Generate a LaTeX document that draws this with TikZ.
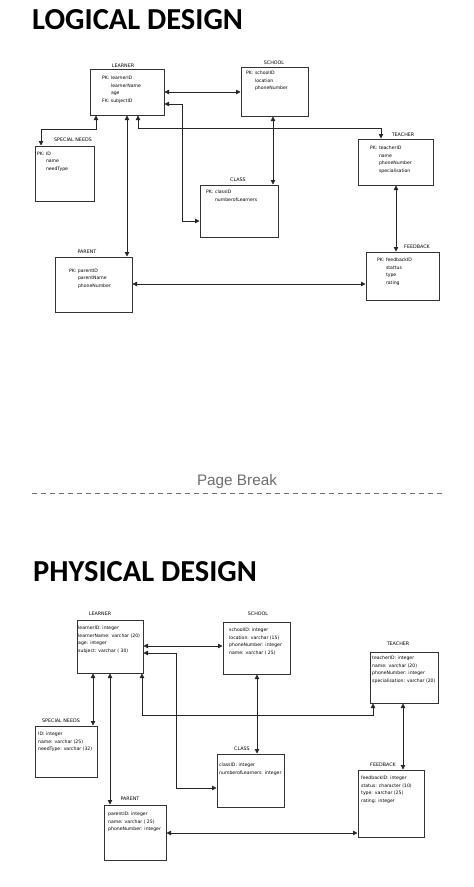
\documentclass[tikz,border=0pt]{standalone}
\usepackage{fontspec}
\setmainfont{DejaVu Sans}
\newfontfamily\titlefont{Carlito}
\newfontfamily\pbfont{Liberation Sans}
\usetikzlibrary{arrows.meta}
\definecolor{boxline}{HTML}{333333}
\definecolor{pbgray}{HTML}{6E6E6E}
\tikzset{
  erbox/.style={draw=boxline, line width=1pt, inner sep=0pt},
  lbl/.style={font=\fontsize{4.8}{5}\selectfont, inner sep=0pt},
  attr/.style={font=\fontsize{4.6}{7.6}\selectfont, align=left, inner sep=0pt, anchor=north west},
  dbl/.style={{Triangle[length=4.5pt,width=4.5pt]}-{Triangle[length=4.5pt,width=4.5pt]}, line width=0.8pt, draw=black!85},
  ttl/.style={font=\titlefont\bfseries\fontsize{30.5}{32}\selectfont, inner sep=0pt, anchor=base west}
}
\newcommand{\ind}{\phantom{PK: }}
\begin{document}
\begin{tikzpicture}[x=1pt,y=-1pt]
\fill[white] (0,0) rectangle (474,887);
\useasboundingbox (0,0) rectangle (474,887);

% ---------------- LOGICAL DESIGN ----------------
\node[ttl] (t1) at (32,29) {LOGICAL DESIGN};

\node[erbox, minimum width=74pt, minimum height=46pt] (LL) at (127,92) {};
\node[lbl] (LLl) at (123,66) {LEARNER};
\node[attr] (LLt) at (102,75.8) {PK: learnerID\\\ind learnerName\\\ind age\\FK: subjectID};

\node[erbox, minimum width=67pt, minimum height=49pt] (LS) at (274.5,91.5) {};
\node[lbl] (LSl) at (274,63) {SCHOOL};
\node[attr] (LSt) at (246,70.8) {PK: schoolID\\\ind location\\\ind phoneNumber};

\node[erbox, minimum width=59pt, minimum height=55pt] (LSN) at (64.5,173.5) {};
\node[lbl] (LSNl) at (73,140) {SPECIAL NEEDS};
\node[attr] (LSNt) at (37,151.8) {PK: ID\\\ind name\\\ind needType};

\node[erbox, minimum width=78pt, minimum height=52pt] (LC) at (239,211) {};
\node[lbl] (LCl) at (238,180) {CLASS};
\node[attr] (LCt) at (206,189.8) {PK: classID\\\ind numberofLearners};

\node[erbox, minimum width=75pt, minimum height=46pt] (LT) at (395.5,162) {};
\node[lbl] (LTl) at (403,135) {TEACHER};
\node[attr] (LTt) at (370,145.8) {PK: teacherID\\\ind name\\\ind phoneNumber\\\ind specialisation};

\node[erbox, minimum width=77pt, minimum height=55pt] (LP) at (93.5,284.5) {};
\node[lbl] (LPl) at (87,252) {PARENT};
\node[attr] (LPt) at (69,268.8) {PK: parentID\\\ind parentName\\\ind phoneNumber};

\node[erbox, minimum width=73pt, minimum height=48pt] (LF) at (402.5,276) {};
\node[lbl] (LFl) at (417,247) {FEEDBACK};
\node[attr] (LFt) at (377,257.8) {PK: feedbackID\\\ind stattus\\\ind type\\\ind rating};

\coordinate (lc1) at (182,104);
\coordinate (lc2) at (182,221);
\coordinate (ls1) at (96,129);
\coordinate (ls2) at (41,129);
\coordinate (lt1) at (138,128);
\coordinate (lt2) at (381,128);
\coordinate (lx1) at (273,0);
\coordinate (lx2) at (396,0);
\coordinate (ly1) at (0,284);

\draw[dbl] (LL.east) -- (LL.east -| LS.west);
\draw[dbl] (LL.east |- lc1) -- (lc1) -- (lc2) -- (LC.west |- lc2);
\draw[dbl] (LL.south -| ls1) -- (ls1) -- (ls2) -- (LSN.north -| ls2);
\draw[dbl] (LL.south -| lt1) -- (lt1) -- (lt2) -- (LT.north -| lt2);
\draw[dbl] (LL.south) -- (LL.south |- LP.north);
\draw[dbl] (LS.south -| lx1) -- (LC.north -| lx1);
\draw[dbl] (LT.south -| lx2) -- (LF.north -| lx2);
\draw[dbl] (LP.east |- ly1) -- (LF.west |- ly1);

% ---------------- PAGE BREAK ----------------
\node[font=\pbfont\fontsize{15.3}{17}\selectfont, text=pbgray, inner sep=0pt] (pb) at (237,482) {Page Break};
\coordinate (pb1) at (32,493);
\coordinate (pb2) at (443,493);
\draw[pbgray, line width=0.9pt, dash pattern=on 5pt off 4pt] (pb1) -- (pb2);

% ---------------- PHYSICAL DESIGN ----------------
\node[ttl] (t2) at (33,581) {PHYSICAL DESIGN};

\node[erbox, minimum width=66pt, minimum height=53pt] (PL) at (110,646.5) {};
\node[lbl] (PLl) at (100,614) {LEARNER};
\node[attr] (PLt) at (78,625.8) {learnerID: integer\\learnerName: varchar (20)\\age: integer\\subject: varchar ( 30)};

\node[erbox, minimum width=67pt, minimum height=52pt] (PS) at (256.5,648) {};
\node[lbl] (PSl) at (258,614) {SCHOOL};
\node[attr] (PSt) at (229,627.8) {schoolID: integer\\location: varchar (15)\\phoneNumber: integer\\name: varchar ( 25)};

\node[erbox, minimum width=68pt, minimum height=51pt] (PT) at (404,677.5) {};
\node[lbl] (PTl) at (398,644) {TEACHER};
\node[attr] (PTt) at (372,655.8) {teacherID: integer\\name: varchar (20)\\phoneNumber: integer\\specialisation: varchar (20)};

\node[erbox, minimum width=62pt, minimum height=51pt] (PSN) at (66,751.5) {};
\node[lbl] (PSNl) at (61,721) {SPECIAL NEEDS};
\node[attr] (PSNt) at (38,731.8) {ID: integer\\name: varchar (25)\\needType: varchar (32)};

\node[erbox, minimum width=67pt, minimum height=53pt] (PC) at (250.5,780.5) {};
\node[lbl] (PCl) at (242,749) {CLASS};
\node[attr] (PCt) at (219,762.8) {classID: integer\\numberofLearners: integer};

\node[erbox, minimum width=66pt, minimum height=67pt] (PF) at (391,803.5) {};
\node[lbl] (PFl) at (383,765) {FEEDBACK};
\node[attr] (PFt) at (361,775.8) {feedbackID: integer\\status: character (10)\\type: varchar (25)\\rating: integer};

\node[erbox, minimum width=62pt, minimum height=55pt] (PP) at (135,832.5) {};
\node[lbl] (PPl) at (130,799) {PARENT};
\node[attr] (PPt) at (108,811.8) {parentID: integer\\name: varchar ( 25)\\phoneNumber: integer};

\coordinate (py1) at (0,646);
\coordinate (pc1) at (176,653);
\coordinate (pc2) at (176,788);
\coordinate (px1) at (93,0);
\coordinate (px2) at (110,0);
\coordinate (pt1) at (142,715);
\coordinate (pt2) at (373,715);
\coordinate (px3) at (257,0);
\coordinate (px4) at (403,0);
\coordinate (py2) at (0,833);

\draw[dbl] (PL.east |- py1) -- (PS.west |- py1);
\draw[dbl] (PL.east |- pc1) -- (pc1) -- (pc2) -- (PC.west |- pc2);
\draw[dbl] (PL.south -| px1) -- (PSN.north -| px1);
\draw[dbl] (PL.south -| px2) -- (PP.north -| px2);
\draw[dbl] (PL.south -| pt1) -- (pt1) -- (pt2) -- (PT.south -| pt2);
\draw[dbl] (PS.south -| px3) -- (PC.north -| px3);
\draw[dbl] (PT.south -| px4) -- (PF.north -| px4);
\draw[dbl] (PP.east |- py2) -- (PF.west |- py2);
\end{tikzpicture}
\end{document}
